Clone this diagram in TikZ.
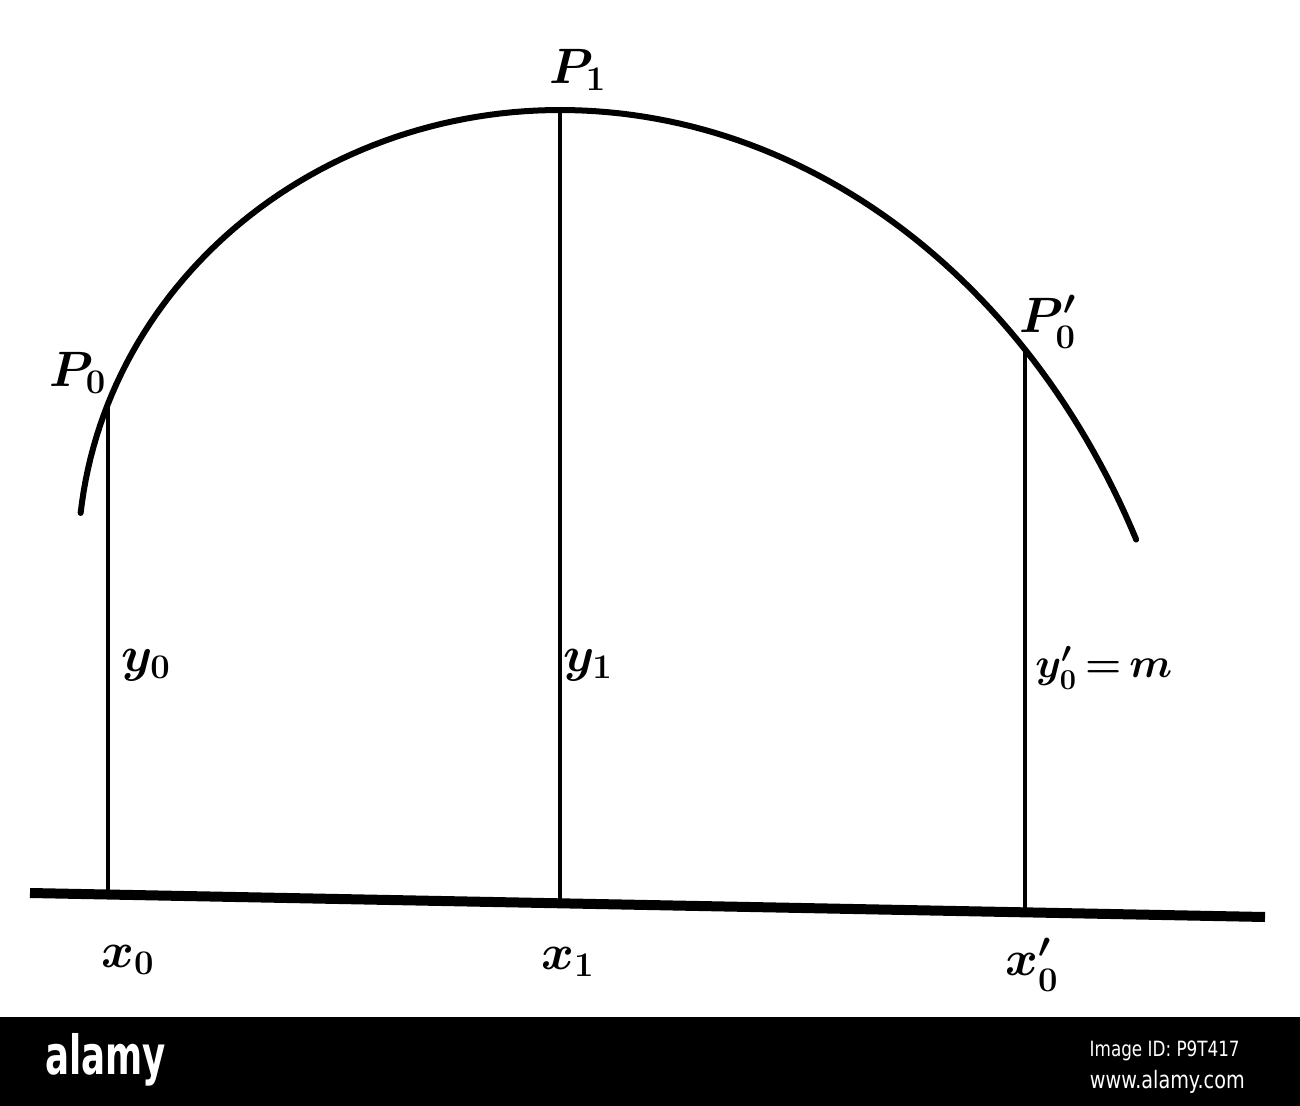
\documentclass[tikz,border=0pt]{standalone}
\usepackage{fontspec}
\newfontfamily\wmfont{DejaVu Sans}
\begin{document}
\begin{tikzpicture}[x=0.5pt,y=-0.5pt,
  curve/.style={line width=3pt,line cap=round,line join=round},
  ordinate/.style={line width=2pt},
  axisline/.style={line width=5pt},
  lbl/.style={inner sep=0pt,font=\fontsize{24}{28}\selectfont\boldmath},
  wm/.style={inner sep=0pt,text=white}]
\useasboundingbox (0,0) rectangle (1300,1106);
\fill[white] (0,0) rectangle (1300,1017);
\fill[black] (0,1017) rectangle (1300,1106);
% axis
\coordinate (A0) at (30,893);
\coordinate (A1) at (1265,917);
\draw[axisline] (A0) -- (A1);
% feet and curve points
\coordinate (X0) at (108,895);
\coordinate (X1) at (560,903);
\coordinate (X2) at (1025,912);
\coordinate (P0) at (108,404);
\coordinate (P1) at (560,110);
\coordinate (P2) at (1025,349);
\draw[curve] plot[domain=186:270,samples=60] ({560+482*cos(\x)},{560+450*sin(\x)})
  -- plot[domain=270:333.3,samples=60] ({560+645*cos(\x)},{890+780*sin(\x)});
\draw[ordinate] (P0) -- (X0);
\draw[ordinate] (P1) -- (X1);
\draw[ordinate] (P2) -- (X2);
% labels
\node[lbl] (LP0) at (78,373) {$P_0$};
\node[lbl] (LP1) at (578,70) {$P_1$};
\node[lbl] (LP2) at (1048,322) {$P'_0$};
\node[lbl] (LY0) at (146,665) {$y_0$};
\node[lbl] (LY1) at (588,665) {$y_1$};
\node[lbl,anchor=west,font=\fontsize{20}{24}\selectfont\boldmath] (LY2) at (1035,668) {$y'_0\mkern3mu{=}\mkern3mu m$};
\node[lbl] (LX0) at (128,960) {$x_0$};
\node[lbl] (LX1) at (568,962) {$x_1$};
\node[lbl] (LX2) at (1032,965) {$x'_0$};
% watermark
\node[wm,anchor=west,xscale=0.66,font=\wmfont\bfseries\fontsize{27}{30}\selectfont] (WM) at (45,1060) {alamy};
\node[wm,anchor=east,xscale=0.8,font=\wmfont\fontsize{10.5}{12}\selectfont] (ID) at (1240,1051) {Image ID: P9T417};
\node[wm,anchor=east,xscale=0.8,font=\wmfont\fontsize{12}{14}\selectfont] (WWW) at (1245,1082) {www.alamy.com};
\end{tikzpicture}
\end{document}
